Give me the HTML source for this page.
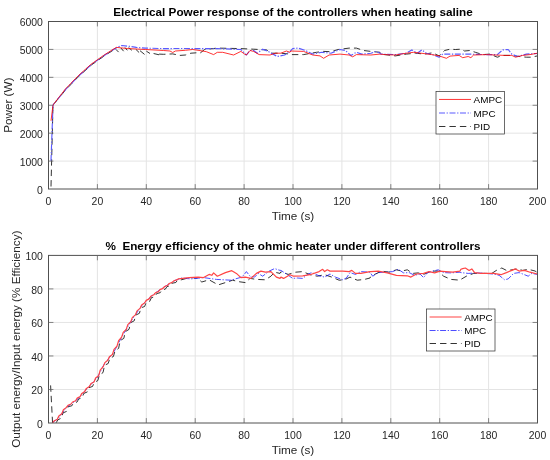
<!DOCTYPE html>
<html><head><meta charset="utf-8"><title>Controller response plots</title>
<style>
html,body{margin:0;padding:0;background:#fff;}
body{width:550px;height:460px;overflow:hidden;}
svg{display:block;font-family:"Liberation Sans",Arial,sans-serif;}
.tk{font-size:10.45px;fill:#262626;}
.lb{font-size:11.73px;fill:#262626;}
.tt{font-size:11.73px;font-weight:bold;fill:#000;}
.lg{font-size:9.9px;fill:#000;}
.grid line{stroke:#e4e4e4;stroke-width:1;}
.ax{stroke:#505050;stroke-width:1;fill:none;}
.ticks line{stroke:#606060;stroke-width:0.75;}
.cr{fill:none;stroke:#ff0000;stroke-width:0.8;stroke-linejoin:round;}
.cb{fill:none;stroke:#0000ff;stroke-width:0.7;stroke-dasharray:6 1.6 1.3 1.6;stroke-linejoin:round;}
.ck{fill:none;stroke:#000;stroke-width:0.8;stroke-dasharray:6.4 4.05;stroke-linejoin:round;}
</style></head><body>
<svg width="550" height="460" viewBox="0 0 550 460">
<rect width="550" height="460" fill="#fff"/>

<g class="grid">
<line x1="97.40" y1="21.5" x2="97.40" y2="189.0"/>
<line x1="146.30" y1="21.5" x2="146.30" y2="189.0"/>
<line x1="195.20" y1="21.5" x2="195.20" y2="189.0"/>
<line x1="244.10" y1="21.5" x2="244.10" y2="189.0"/>
<line x1="293.00" y1="21.5" x2="293.00" y2="189.0"/>
<line x1="341.90" y1="21.5" x2="341.90" y2="189.0"/>
<line x1="390.80" y1="21.5" x2="390.80" y2="189.0"/>
<line x1="439.70" y1="21.5" x2="439.70" y2="189.0"/>
<line x1="488.60" y1="21.5" x2="488.60" y2="189.0"/>
<line x1="48.5" y1="161.08" x2="537.5" y2="161.08"/>
<line x1="48.5" y1="133.17" x2="537.5" y2="133.17"/>
<line x1="48.5" y1="105.25" x2="537.5" y2="105.25"/>
<line x1="48.5" y1="77.33" x2="537.5" y2="77.33"/>
<line x1="48.5" y1="49.42" x2="537.5" y2="49.42"/>
</g>
<clipPath id="c21"><rect x="48.5" y="21.5" width="489.0" height="167.5"/></clipPath>
<g clip-path="url(#c21)">
<polyline class="ck" points="51.0,186.5 53.0,105.0 65.9,89.6 78.7,76.4 91.4,65.0 104.1,56.0 113.5,50.0 114.2,48.8 116.0,48.5"/>
<line class="ck" style="stroke-dasharray:none" x1="115.9" y1="49.4" x2="118.6" y2="52.1"/>
<line class="ck" style="stroke-dasharray:none" x1="120.9" y1="48" x2="123.6" y2="51.2"/>
<line class="ck" style="stroke-dasharray:none" x1="125" y1="47.5" x2="127.3" y2="50.3"/>
<line class="ck" style="stroke-dasharray:none" x1="128.6" y1="47.5" x2="131.8" y2="50.3"/>
<line class="ck" style="stroke-dasharray:none" x1="135.9" y1="49.4" x2="139.1" y2="52.5"/>
<line class="ck" style="stroke-dasharray:none" x1="140" y1="50.7" x2="144.5" y2="54.4"/>
<line class="ck" style="stroke-dasharray:none" x1="146.4" y1="51.2" x2="150" y2="53.5"/>
<line class="ck" style="stroke-dasharray:none" x1="153.6" y1="53.5" x2="159.1" y2="54.8"/>
<polyline class="ck" points="159.1,54.1 163.6,54.3 172.7,53.9 180.0,55.4 185.4,55.0 190.9,53.2 196.4,52.8 200.0,53.2 204.6,49.5 217.3,48.1 240.9,48.6 253.6,49.2 266.4,49.9 271.8,53.2 280.9,53.2 290.0,54.1 290.9,54.6 303.6,54.6 316.4,52.3 323.6,51.4 330.9,51.7 338.2,49.5 349.1,48.1 356.4,48.1 363.6,50.5 370.9,51.4 380.0,52.3 380.9,54.1 395.4,55.9 406.4,54.1 415.4,53.2 424.6,54.1 432.7,52.8 439.1,55.9 444.6,50.5 450.0,49.2 455.4,49.5 460.9,49.2 464.6,51.0 470.0,50.5 475.4,52.3 482.7,54.6 490.0,54.1 497.3,57.2 502.7,55.4 511.8,55.4 519.1,56.5 526.4,57.2 531.8,57.2 537.3,55.9"/>
<polyline class="cb" style="stroke-width:1.15;stroke:#5a5aff" points="51.0,160.8 53.0,105.0 65.7,89.3 78.5,76.1 91.2,64.7 103.8,55.7 113.2,49.7 117.3,47.4 121.8,45.5 129.1,46.3 136.4,47.4 145.4,48.1 163.6,48.6 181.8,48.5 200.0,48.6 217.3,48.6 240.9,49.5 246.4,55.0 250.0,50.5 253.6,50.5 257.3,53.2 262.7,49.2 268.2,51.4 277.3,56.5 284.6,55.0 290.0,51.4 292.7,48.6 298.2,48.1 305.4,50.5 312.7,54.1 321.8,52.3 330.9,53.2 340.0,49.5 345.4,50.5 350.9,55.4 356.4,52.3 361.8,54.1 370.9,53.2 376.4,51.4 380.0,53.2 380.9,54.1 395.4,54.6 406.4,53.2 411.8,49.9 417.3,53.2 421.8,49.9 426.4,53.2 433.6,55.0 439.1,57.2 442.7,54.1 450.0,54.1 468.2,54.1 486.4,54.6 497.3,54.6 502.7,49.9 508.2,49.5 511.8,54.1 517.3,56.5 526.4,54.1 537.3,53.5"/>
<polyline class="cr" points="51.0,120.8 53.0,105.0 65.4,89.0 78.2,75.8 90.9,64.4 103.6,55.4 113.0,49.4 116.4,47.4 127.3,48.5 145.4,49.5 163.6,50.5 170.0,51.0 172.7,52.5 175.4,51.0 185.4,50.3 192.7,49.5 200.0,50.6 206.4,51.7 213.6,54.6 217.3,52.3 222.7,52.3 233.6,55.0 240.9,51.4 244.6,54.1 246.4,55.0 250.0,50.5 253.6,51.4 259.1,54.6 270.0,55.0 275.4,53.2 280.9,53.2 286.4,51.0 290.0,52.3 290.9,51.0 303.6,51.4 312.7,55.0 320.0,55.9 323.6,58.3 329.1,55.0 340.0,54.1 349.1,55.0 352.7,56.8 356.4,54.6 370.9,55.0 380.0,54.1 384.6,54.6 395.4,55.0 406.4,53.2 413.6,52.3 420.9,53.2 431.8,54.6 439.1,55.9 446.4,58.3 450.0,56.1 459.1,55.4 462.7,57.7 468.2,56.5 470.9,57.7 473.6,55.0 486.4,54.6 495.4,55.0 504.6,55.4 511.8,55.4 515.5,57.2 522.7,55.4 530.0,54.6 537.3,53.2"/>
</g>
<rect class="ax" x="48.5" y="21.5" width="489.0" height="167.5"/>
<g class="ticks">
<line x1="97.40" y1="189.0" x2="97.40" y2="184.1"/><line x1="97.40" y1="21.5" x2="97.40" y2="26.4"/>
<line x1="146.30" y1="189.0" x2="146.30" y2="184.1"/><line x1="146.30" y1="21.5" x2="146.30" y2="26.4"/>
<line x1="195.20" y1="189.0" x2="195.20" y2="184.1"/><line x1="195.20" y1="21.5" x2="195.20" y2="26.4"/>
<line x1="244.10" y1="189.0" x2="244.10" y2="184.1"/><line x1="244.10" y1="21.5" x2="244.10" y2="26.4"/>
<line x1="293.00" y1="189.0" x2="293.00" y2="184.1"/><line x1="293.00" y1="21.5" x2="293.00" y2="26.4"/>
<line x1="341.90" y1="189.0" x2="341.90" y2="184.1"/><line x1="341.90" y1="21.5" x2="341.90" y2="26.4"/>
<line x1="390.80" y1="189.0" x2="390.80" y2="184.1"/><line x1="390.80" y1="21.5" x2="390.80" y2="26.4"/>
<line x1="439.70" y1="189.0" x2="439.70" y2="184.1"/><line x1="439.70" y1="21.5" x2="439.70" y2="26.4"/>
<line x1="488.60" y1="189.0" x2="488.60" y2="184.1"/><line x1="488.60" y1="21.5" x2="488.60" y2="26.4"/>
<line x1="48.5" y1="161.08" x2="53.4" y2="161.08"/><line x1="537.5" y1="161.08" x2="532.6" y2="161.08"/>
<line x1="48.5" y1="133.17" x2="53.4" y2="133.17"/><line x1="537.5" y1="133.17" x2="532.6" y2="133.17"/>
<line x1="48.5" y1="105.25" x2="53.4" y2="105.25"/><line x1="537.5" y1="105.25" x2="532.6" y2="105.25"/>
<line x1="48.5" y1="77.33" x2="53.4" y2="77.33"/><line x1="537.5" y1="77.33" x2="532.6" y2="77.33"/>
<line x1="48.5" y1="49.42" x2="53.4" y2="49.42"/><line x1="537.5" y1="49.42" x2="532.6" y2="49.42"/>
</g>
<text class="tk" x="48.50" y="204.9" text-anchor="middle">0</text>
<text class="tk" x="97.40" y="204.9" text-anchor="middle">20</text>
<text class="tk" x="146.30" y="204.9" text-anchor="middle">40</text>
<text class="tk" x="195.20" y="204.9" text-anchor="middle">60</text>
<text class="tk" x="244.10" y="204.9" text-anchor="middle">80</text>
<text class="tk" x="293.00" y="204.9" text-anchor="middle">100</text>
<text class="tk" x="341.90" y="204.9" text-anchor="middle">120</text>
<text class="tk" x="390.80" y="204.9" text-anchor="middle">140</text>
<text class="tk" x="439.70" y="204.9" text-anchor="middle">160</text>
<text class="tk" x="488.60" y="204.9" text-anchor="middle">180</text>
<text class="tk" x="537.50" y="204.9" text-anchor="middle">200</text>
<text class="tk" x="42.9" y="193.80" text-anchor="end">0</text>
<text class="tk" x="42.9" y="165.88" text-anchor="end">1000</text>
<text class="tk" x="42.9" y="137.97" text-anchor="end">2000</text>
<text class="tk" x="42.9" y="110.05" text-anchor="end">3000</text>
<text class="tk" x="42.9" y="82.13" text-anchor="end">4000</text>
<text class="tk" x="42.9" y="54.22" text-anchor="end">5000</text>
<text class="tk" x="42.9" y="26.30" text-anchor="end">6000</text>
<text class="lb" x="293.0" y="219.9" text-anchor="middle">Time (s)</text>
<text class="lb" transform="translate(11.8,105.2) rotate(-90)" text-anchor="middle">Power (W)</text>
<text class="tt" x="293.0" y="16.0" text-anchor="middle" style="white-space:pre">Electrical Power response of the controllers when heating saline</text>
<rect x="436" y="91.5" width="68.6" height="42.5" fill="#fff" stroke="#3a3a3a" stroke-width="0.75"/>
<polyline class="cr" points="439.0,99.45 471.0,99.45"/>
<text class="lg" x="473.6" y="103.00">AMPC</text>
<polyline class="cb" style="stroke-width:1.15;stroke:#5a5aff" points="439.0,113.0 471.0,113.0"/>
<text class="lg" x="473.6" y="116.55">MPC</text>
<polyline class="ck" points="439.0,126.5 471.0,126.5"/>
<text class="lg" x="473.6" y="130.05">PID</text>
<g class="grid">
<line x1="97.40" y1="255.4" x2="97.40" y2="423.0"/>
<line x1="146.30" y1="255.4" x2="146.30" y2="423.0"/>
<line x1="195.20" y1="255.4" x2="195.20" y2="423.0"/>
<line x1="244.10" y1="255.4" x2="244.10" y2="423.0"/>
<line x1="293.00" y1="255.4" x2="293.00" y2="423.0"/>
<line x1="341.90" y1="255.4" x2="341.90" y2="423.0"/>
<line x1="390.80" y1="255.4" x2="390.80" y2="423.0"/>
<line x1="439.70" y1="255.4" x2="439.70" y2="423.0"/>
<line x1="488.60" y1="255.4" x2="488.60" y2="423.0"/>
<line x1="48.5" y1="389.48" x2="537.5" y2="389.48"/>
<line x1="48.5" y1="355.96" x2="537.5" y2="355.96"/>
<line x1="48.5" y1="322.44" x2="537.5" y2="322.44"/>
<line x1="48.5" y1="288.92" x2="537.5" y2="288.92"/>
</g>
<clipPath id="c255"><rect x="48.5" y="255.4" width="489.0" height="167.6"/></clipPath>
<g clip-path="url(#c255)">
<polyline class="ck" points="50.6,385.4 52.6,423.6 56.2,422.7 57.8,419.9 61.4,418.1 63.0,412.9 66.6,411.4 68.2,406.7 71.8,405.8 73.4,403.1 77.0,402.1 78.6,399.1 82.2,397.6 83.8,393.4 87.4,391.9 89.0,387.7 92.6,386.4 94.2,382.5 97.8,380.6 99.4,375.0 103.0,372.6 104.6,365.3 108.2,363.5 109.8,358.3 113.4,356.5 115.0,351.0 118.6,348.4 120.2,340.6 123.8,338.4 125.4,331.6 129.0,329.4 130.6,322.7 134.2,320.8 135.8,315.1 139.4,313.3 141.0,307.8 144.6,306.5 146.2,302.4 149.8,301.2 151.4,297.7 155.0,296.7 156.6,293.6 160.2,292.7 161.8,290.0 165.4,289.1 167.0,286.5 170.6,285.7 172.2,283.2 175.8,282.5 177.4,280.4 181.0,279.9 190.0,277.5 197.0,278.0 201.8,282.0 209.1,279.8 218.2,284.9 225.4,282.6 232.7,280.2 238.2,281.6 245.4,282.6 250.0,278.4 256.4,279.4 265.4,279.8 270.9,276.2 274.6,272.2 280.0,273.4 280.9,271.8 288.2,274.4 295.4,272.2 302.7,271.6 310.0,274.7 317.3,276.2 324.6,274.7 331.8,277.1 339.1,280.2 344.6,279.8 350.0,277.1 357.3,280.2 364.6,279.4 370.0,278.0 370.9,276.2 374.6,274.4 381.8,271.1 389.1,272.2 396.4,269.8 401.8,271.1 407.3,269.8 412.7,273.4 418.2,272.9 423.6,274.4 430.9,271.1 438.2,271.1 443.6,276.2 450.9,279.4 460.0,280.2 460.9,279.4 466.4,276.2 473.6,273.4 480.9,273.4 491.8,273.4 497.3,269.8 501.8,268.0 506.4,270.4 511.8,269.8 517.3,268.9 522.7,270.4 528.2,269.3 535.5,271.1 537.3,273.4"/>
<polyline class="cb" points="52.6,422.4 55.6,420.3 58.6,417.9 61.6,413.9 64.6,409.9 67.6,406.4 70.6,404.4 73.6,402.2 76.6,400.1 79.6,397.1 82.6,393.7 85.6,390.2 88.6,386.8 91.6,383.7 94.6,380.6 97.6,377.1 100.6,371.1 103.6,365.2 106.6,361.2 109.6,357.3 112.6,354.1 115.6,348.8 118.6,342.9 121.6,337.3 124.6,332.2 127.6,327.1 130.6,322.0 133.6,317.4 136.6,313.1 139.6,308.8 142.6,304.4 145.6,301.6 148.6,298.8 151.6,296.0 154.6,293.5 157.6,291.4 160.6,289.4 163.6,287.4 166.6,285.5 169.6,283.7 172.6,281.9 175.6,280.2 178.6,279.2 181.6,278.1 190.9,278.9 203.6,277.6 216.4,279.4 230.9,280.2 240.0,277.6 243.6,275.3 246.4,271.6 250.0,276.2 254.6,277.1 258.2,273.4 262.7,276.2 269.1,271.1 274.6,268.6 280.0,270.4 280.9,270.4 286.4,274.0 292.7,278.4 297.3,278.0 302.7,278.4 308.2,274.0 311.8,272.6 319.1,275.8 324.6,277.1 330.0,274.0 335.4,277.1 342.7,279.8 346.4,278.0 350.0,272.6 355.4,274.4 360.9,271.6 370.0,272.2 372.7,276.2 378.2,272.6 385.4,272.2 392.7,271.6 398.2,269.3 403.6,272.9 409.1,272.6 414.6,275.3 420.0,274.0 423.6,277.6 427.3,272.9 432.7,271.1 438.2,269.8 443.6,272.6 450.9,272.9 460.0,272.2 460.9,272.6 468.2,273.4 477.3,272.9 493.6,274.0 499.1,275.3 504.6,279.8 508.2,278.9 513.6,273.4 519.1,272.6 524.5,274.7 528.2,276.2 531.8,273.4 537.3,274.4"/>
<polyline class="cr" style="stroke-width:1.2;stroke:#ff4545" points="52.6,422.8 54.2,420.8 57.2,419.5 58.8,415.9 61.8,413.8 63.4,409.8 66.4,407.4 68.0,405.3 71.0,404.0 72.6,402.0 75.6,400.8 77.2,398.1 80.2,396.5 81.8,393.4 84.8,391.4 86.4,388.4 89.4,386.5 91.0,383.6 94.0,381.9 95.6,378.1 98.6,375.8 100.2,370.1 103.2,366.6 104.8,362.6 107.8,360.2 109.4,356.7 112.4,354.6 114.0,349.4 117.0,346.2 118.6,340.6 121.6,337.2 123.2,332.4 126.2,329.4 127.8,324.6 130.8,321.6 132.4,317.4 135.4,314.9 137.0,310.9 140.0,308.4 141.6,305.1 144.6,303.0 146.2,300.4 149.2,298.9 150.8,296.3 153.8,294.8 155.4,292.8 158.4,291.6 160.0,289.6 163.0,288.4 164.6,286.5 167.6,285.3 169.2,283.5 172.2,282.4 173.8,280.8 176.8,279.9 178.4,278.8 189.1,277.6 198.2,277.1 203.6,277.6 209.1,274.4 211.8,275.3 213.6,272.9 217.3,276.2 225.4,272.6 231.8,270.7 236.4,273.4 240.9,277.6 245.4,277.1 250.9,278.4 256.4,273.4 260.9,271.1 265.4,272.2 270.9,271.6 276.4,277.1 280.0,278.4 280.9,277.1 283.6,278.4 290.0,274.7 293.6,276.2 302.7,275.8 310.0,274.7 319.1,271.6 322.7,269.3 324.6,271.6 327.3,269.8 330.0,271.1 342.7,271.1 349.1,271.6 351.8,270.4 355.4,273.4 360.9,273.4 370.0,271.6 370.9,271.6 378.2,271.1 387.3,272.9 396.4,275.3 407.3,275.8 410.9,277.1 416.4,274.0 423.6,273.4 429.1,271.6 434.6,272.9 440.0,271.1 445.4,271.6 452.7,272.2 460.0,271.1 460.9,269.3 462.7,268.6 465.4,268.0 469.1,270.4 471.8,268.9 474.6,272.6 480.9,273.4 493.6,273.4 500.9,274.7 506.4,272.6 511.8,270.4 515.5,268.9 519.1,271.1 524.5,270.4 530.0,272.2 537.3,274.0"/>
</g>
<rect class="ax" x="48.5" y="255.4" width="489.0" height="167.6"/>
<g class="ticks">
<line x1="97.40" y1="423.0" x2="97.40" y2="418.1"/><line x1="97.40" y1="255.4" x2="97.40" y2="260.3"/>
<line x1="146.30" y1="423.0" x2="146.30" y2="418.1"/><line x1="146.30" y1="255.4" x2="146.30" y2="260.3"/>
<line x1="195.20" y1="423.0" x2="195.20" y2="418.1"/><line x1="195.20" y1="255.4" x2="195.20" y2="260.3"/>
<line x1="244.10" y1="423.0" x2="244.10" y2="418.1"/><line x1="244.10" y1="255.4" x2="244.10" y2="260.3"/>
<line x1="293.00" y1="423.0" x2="293.00" y2="418.1"/><line x1="293.00" y1="255.4" x2="293.00" y2="260.3"/>
<line x1="341.90" y1="423.0" x2="341.90" y2="418.1"/><line x1="341.90" y1="255.4" x2="341.90" y2="260.3"/>
<line x1="390.80" y1="423.0" x2="390.80" y2="418.1"/><line x1="390.80" y1="255.4" x2="390.80" y2="260.3"/>
<line x1="439.70" y1="423.0" x2="439.70" y2="418.1"/><line x1="439.70" y1="255.4" x2="439.70" y2="260.3"/>
<line x1="488.60" y1="423.0" x2="488.60" y2="418.1"/><line x1="488.60" y1="255.4" x2="488.60" y2="260.3"/>
<line x1="48.5" y1="389.48" x2="53.4" y2="389.48"/><line x1="537.5" y1="389.48" x2="532.6" y2="389.48"/>
<line x1="48.5" y1="355.96" x2="53.4" y2="355.96"/><line x1="537.5" y1="355.96" x2="532.6" y2="355.96"/>
<line x1="48.5" y1="322.44" x2="53.4" y2="322.44"/><line x1="537.5" y1="322.44" x2="532.6" y2="322.44"/>
<line x1="48.5" y1="288.92" x2="53.4" y2="288.92"/><line x1="537.5" y1="288.92" x2="532.6" y2="288.92"/>
</g>
<text class="tk" x="48.50" y="438.9" text-anchor="middle">0</text>
<text class="tk" x="97.40" y="438.9" text-anchor="middle">20</text>
<text class="tk" x="146.30" y="438.9" text-anchor="middle">40</text>
<text class="tk" x="195.20" y="438.9" text-anchor="middle">60</text>
<text class="tk" x="244.10" y="438.9" text-anchor="middle">80</text>
<text class="tk" x="293.00" y="438.9" text-anchor="middle">100</text>
<text class="tk" x="341.90" y="438.9" text-anchor="middle">120</text>
<text class="tk" x="390.80" y="438.9" text-anchor="middle">140</text>
<text class="tk" x="439.70" y="438.9" text-anchor="middle">160</text>
<text class="tk" x="488.60" y="438.9" text-anchor="middle">180</text>
<text class="tk" x="537.50" y="438.9" text-anchor="middle">200</text>
<text class="tk" x="42.9" y="427.80" text-anchor="end">0</text>
<text class="tk" x="42.9" y="394.28" text-anchor="end">20</text>
<text class="tk" x="42.9" y="360.76" text-anchor="end">40</text>
<text class="tk" x="42.9" y="327.24" text-anchor="end">60</text>
<text class="tk" x="42.9" y="293.72" text-anchor="end">80</text>
<text class="tk" x="42.9" y="260.20" text-anchor="end">100</text>
<text class="lb" x="293.0" y="453.9" text-anchor="middle">Time (s)</text>
<text class="lb" transform="translate(20.2,339.2) rotate(-90)" text-anchor="middle">Output energy/Input energy (% Efficiency)</text>
<text class="tt" x="293.0" y="249.9" text-anchor="middle" style="white-space:pre">%  Energy efficiency of the ohmic heater under different controllers</text>
<rect x="426.6" y="309" width="68.4" height="42" fill="#fff" stroke="#3a3a3a" stroke-width="0.75"/>
<polyline class="cr" style="stroke-width:1.2;stroke:#ff4545" points="429.6,317 461.6,317"/>
<text class="lg" x="464.2" y="320.55">AMPC</text>
<polyline class="cb" points="429.6,330.5 461.6,330.5"/>
<text class="lg" x="464.2" y="334.05">MPC</text>
<polyline class="ck" points="429.6,343.5 461.6,343.5"/>
<text class="lg" x="464.2" y="347.05">PID</text>
</svg></body></html>
